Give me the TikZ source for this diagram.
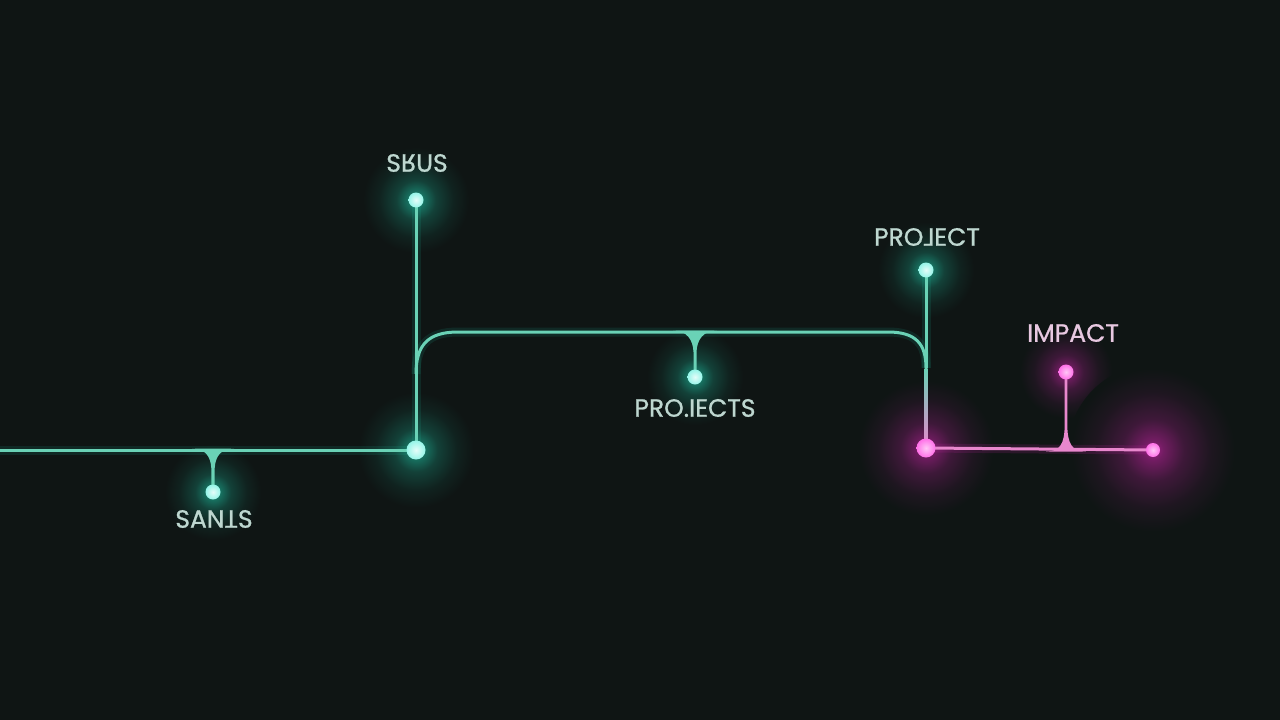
\documentclass[tikz,border=0pt]{standalone}
\usepackage{fontspec}
\setmainfont{Poppins}
\newfontfamily\lblfont{Poppins}[FakeBold=0.9]
\usepackage{graphicx}
\definecolor{bgc}{RGB}{15,21,20}
\definecolor{tealline}{RGB}{106,210,182}
\definecolor{tealdot}{RGB}{150,245,232}
\definecolor{tealglow}{RGB}{30,190,160}
\definecolor{pinkline}{RGB}{232,135,205}
\definecolor{pinkdot}{RGB}{255,112,232}
\definecolor{pinkglow}{RGB}{205,35,170}
\definecolor{lblc}{RGB}{190,215,208}
\definecolor{implc}{RGB}{232,200,225}
\pgfdeclareradialshading{tglow}{\pgfpoint{0bp}{0bp}}{color(0bp)=(tealglow!85!bgc); color(3bp)=(tealglow!58!bgc); color(9bp)=(tealglow!26!bgc); color(17bp)=(tealglow!8!bgc); color(24bp)=(bgc); color(50bp)=(bgc)}
\pgfdeclareradialshading{pglow}{\pgfpoint{0bp}{0bp}}{color(0bp)=(pinkglow!75!bgc); color(3bp)=(pinkglow!52!bgc); color(9bp)=(pinkglow!25!bgc); color(17bp)=(pinkglow!8!bgc); color(24bp)=(bgc); color(50bp)=(bgc)}
\newcommand\myvflip[1]{\raisebox{\depth}{\scalebox{1}[-1]{#1}}}
\begin{document}
\begin{tikzpicture}[x=1pt,y=-1pt,
  tline/.style={draw=tealline, line width=3pt},
  tglowline/.style={draw=tealglow, line width=9pt, opacity=0.12},
  pline/.style={draw=pinkline, line width=3pt},
  pglowline/.style={draw=pinkglow, line width=9pt, opacity=0.15},
  tdot/.style={circle, inner sep=0pt, minimum size=15pt, draw=none, inner color=white!75!tealdot, outer color=tealdot},
  tbig/.style={tdot, minimum size=19pt},
  pdot/.style={circle, inner sep=0pt, minimum size=15pt, draw=none, inner color=white!60!pinkdot, outer color=pinkdot},
  pbig/.style={pdot, minimum size=19pt},
  lbl/.style={text=lblc, font=\lblfont\fontsize{25}{25}\selectfont, inner sep=0pt},
  plbl/.style={lbl, text=implc},
  vgrad/.style={top color=tealline, bottom color=pinkline, draw=none}
]
\fill[bgc] (0,0) rectangle (1280,720);
\useasboundingbox (0,0) rectangle (1280,720);

% glows
\shade[shading=tglow] (416,450) circle (60pt);
\shade[shading=tglow] (416,200) circle (55pt);
\shade[shading=tglow] (213,492) circle (50pt);
\shade[shading=tglow] (695,377) circle (50pt);
\shade[shading=tglow] (926,270) circle (50pt);
\shade[shading=pglow] (1066,372) circle (48pt);
\shade[shading=pglow] (926,448) circle (70pt);
\shade[shading=pglow] (1153,450) circle (85pt);

% coordinates
\coordinate (lstart) at (0,450);
\coordinate (bl) at (416,374);
\coordinate (br) at (926,368);
\coordinate (hubc) at (416,450);
\coordinate (srusc) at (416,200);
\coordinate (projc) at (926,270);
\coordinate (juncc) at (926,448);
\coordinate (pendc) at (1153,450);

% soft glow under lines
\draw[tglowline] (lstart) -- (hubc) -- (srusc);
\draw[tglowline] (bl) .. controls (416,345) and (428,332) .. (458,332) -- (888,332) .. controls (916,332) and (926,344) .. (br);
\draw[tglowline] (projc) -- (br);
\draw[pglowline] (juncc) -- (pendc);

% lines
\draw[tline] (lstart) -- (hubc);
\draw[tline] (hubc) -- (srusc);
\draw[tline] (bl) .. controls (416,345) and (428,332) .. (458,332) -- (888,332) .. controls (916,332) and (926,344) .. (br);
\draw[tline] (projc) -- (br);
\shade[vgrad] ([xshift=-1.5pt]br) rectangle ([xshift=1.5pt]juncc);
\draw[pline] (juncc) -- (pendc);

% drips
\fill[tealline] (192,448.5) .. controls (205,448.5) and (210.5,456) .. (211.3,468) -- (211.5,487) -- (214.5,487) -- (214.7,468) .. controls (215.5,456) and (221,448.5) .. (234,448.5) -- cycle;
\fill[tealline] (673,330.5) .. controls (687,330.5) and (693,340) .. (693.5,352) -- (693.5,372) -- (696.5,372) -- (696.5,352) .. controls (697,340) and (703,330.5) .. (717,330.5) -- cycle;
\fill[pinkline] (1046,451.5) .. controls (1060,451.5) and (1064.5,444) .. (1064.7,425) -- (1064.7,378) -- (1067.3,378) -- (1067.3,425) .. controls (1067.5,444) and (1072,451.5) .. (1086,451.5) -- cycle;

% dots
\node[tbig] (hub) at (hubc) {};
\node[tdot] (srus) at (srusc) {};
\node[tdot] (sants) at (213,492) {};
\node[tdot] (projs) at (695,377) {};
\node[tdot] (proj) at (projc) {};
\node[pbig] (junc) at (juncc) {};
\node[pdot] (imp) at (1066,372) {};
\node[pdot, minimum size=14pt] (pend) at (pendc) {};

% labels
\node[lbl] (srusl) at (417,163) {S\myvflip{R}US};
\node[lbl] (santsl) at (214,519) {SAN\myvflip{T}S};
\node[lbl] (projsl) at (695,408) {PRO.IECTS};
\node[lbl] (projl) at (927,237) {PRO\reflectbox{L}ECT};
\node[plbl] (impl) at (1073,333) {IMPACT};
\end{tikzpicture}
\end{document}
